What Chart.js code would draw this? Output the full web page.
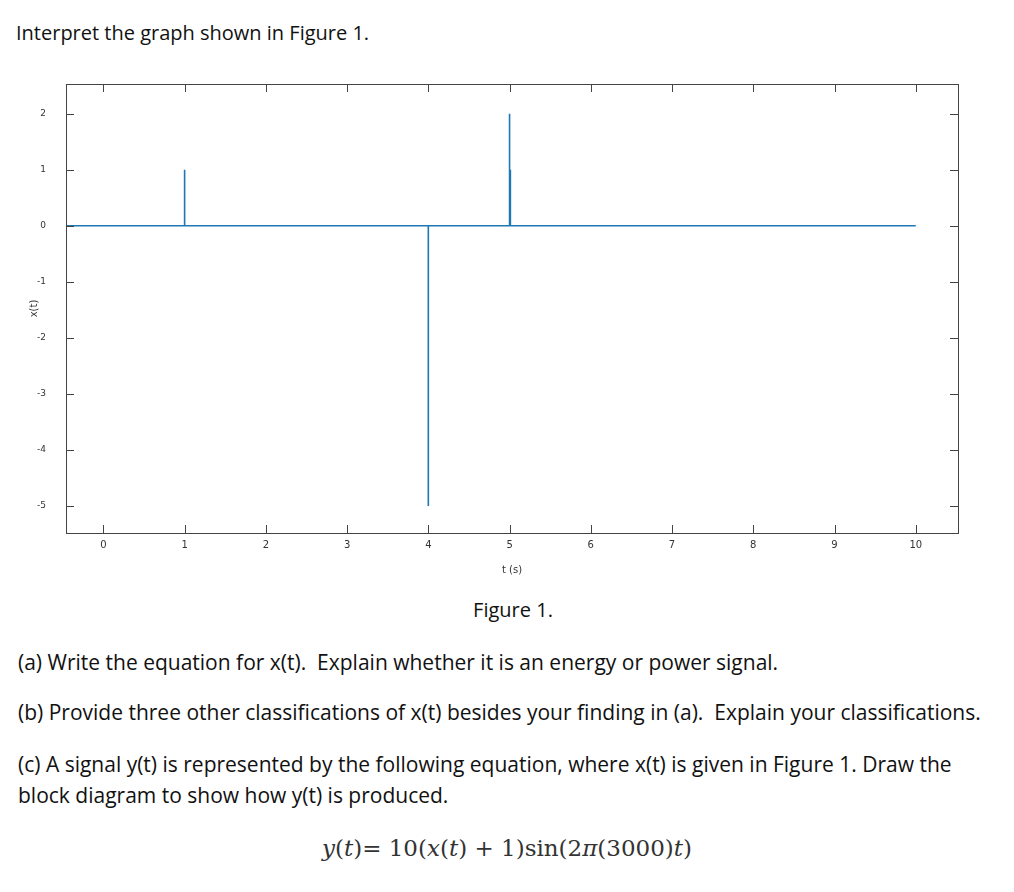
<!DOCTYPE html>
<html>
<head>
<meta charset="utf-8">
<script src="https://cdn.jsdelivr.net/npm/chart.js"></script>
<style>
  body { margin: 0; width: 1014px; height: 892px; background: #fff; font-family: "Open Sans", sans-serif; color: #111; position: relative; overflow: hidden; }
  .t { position: absolute; font-size: 21px; white-space: nowrap; }
  #wrap { position: absolute; left: 0; top: 0; width: 1014px; height: 580px; }
  .eq { position: absolute; left: 0; width: 1014px; top: 835px; text-align: center; font-family: "DejaVu Serif", serif; font-size: 23px; color: #333; }
</style>
</head>
<body>
<div class="t" style="left:16px;top:19px;font-size:20px">Interpret the graph shown in Figure 1.</div>
<div id="wrap"><canvas id="c"></canvas></div>
<div class="t" style="left:0;width:1026px;text-align:center;top:596px;font-size:20px">Figure 1.</div>
<div class="t" style="left:18px;top:648px">(a) Write the equation for x(t).&nbsp; Explain whether it is an energy or power signal.</div>
<div class="t" style="left:18px;top:698px">(b) Provide three other classifications of x(t) besides your finding in (a).&nbsp; Explain your classifications.</div>
<div class="t" style="left:18px;top:750px">(c) A signal y(t) is represented by the following equation, where x(t) is given in Figure 1. Draw the</div>
<div class="t" style="left:18px;top:781px">block diagram to show how y(t) is produced.</div>
<div class="eq"><i>y</i>(<i>t</i>)= 10(<i>x</i>(<i>t</i>) + 1)sin(2<i>π</i>(3000)<i>t</i>)</div>
<script>
// signal samples (t, x)
const tVals = [-0.46, 1, 1, 1, 4, 4, 4, 5, 5, 5, 5.01, 5.01, 5.01, 10];
const xVals = [0, 0, 1, 0, 0, -5, 0, 0, 2, 0, 0, 1, 0, 0];
const xTicks = [0, 1, 2, 3, 4, 5, 6, 7, 8, 9, 10];
const yTicks = [2, 1, 0, -1, -2, -3, -4, -5];

const points = tVals.map((t, i) => ({ x: t, y: xVals[i] }));

const inTicks = {
  id: 'inTicks',
  afterDraw(chart) {
    const { ctx, chartArea: a, scales } = chart;
    ctx.save();
    ctx.strokeStyle = '#444';
    ctx.lineWidth = 1;
    ctx.beginPath();
    xTicks.forEach(v => {
      const px = Math.round(scales.x.getPixelForValue(v)) + 0.5;
      ctx.moveTo(px, a.bottom); ctx.lineTo(px, a.bottom - 8);
      ctx.moveTo(px, a.top); ctx.lineTo(px, a.top + 8);
    });
    yTicks.forEach(v => {
      const py = Math.round(scales.y.getPixelForValue(v)) + 0.5;
      ctx.moveTo(a.left, py); ctx.lineTo(a.left + 8, py);
      ctx.moveTo(a.right, py); ctx.lineTo(a.right - 8, py);
    });
    ctx.stroke();
    ctx.strokeRect(a.left + 0.5, a.top + 0.5, a.right - a.left, a.bottom - a.top);
    ctx.restore();
  }
};

new Chart(document.getElementById('c'), {
  type: 'line',
  data: {
    datasets: [{
      data: points,
      borderColor: '#1f77b4',
      borderWidth: 1.6,
      pointRadius: 0,
      tension: 0,
      fill: false
    }]
  },
  options: {
    responsive: true,
    maintainAspectRatio: false,
    animation: false,
    layout: { padding: { left: 0, right: 56, top: 84, bottom: 0 } },
    plugins: { legend: { display: false }, tooltip: { enabled: false } },
    scales: {
      x: {
        type: 'linear', min: -0.46, max: 10.52,
        afterFit(s) { s.height = 47; },
        afterBuildTicks(s) { s.ticks = xTicks.map(v => ({ value: v })); },
        grid: { display: false, drawTicks: false },
        border: { display: false },
        ticks: { padding: 6, color: '#333', font: { family: 'DejaVu Sans', size: 10 }, maxRotation: 0 },
        title: { display: true, text: 't (s)', color: '#333', padding: { top: -4 }, font: { family: 'DejaVu Sans', size: 10 } }
      },
      y: {
        min: -5.48, max: 2.53,
        afterFit(s) { s.width = 66; },
        afterBuildTicks(s) { s.ticks = yTicks.map(v => ({ value: v })); },
        grid: { display: false, drawTicks: false },
        border: { display: false },
        ticks: { padding: 20, color: '#333', font: { family: 'DejaVu Sans', size: 9 } },
        title: { display: true, text: 'x(t)', color: '#333', padding: { top: 28, bottom: 0 }, font: { family: 'DejaVu Sans', size: 10 } }
      }
    }
  },
  plugins: [inTicks]
});
</script>
</body>
</html>
